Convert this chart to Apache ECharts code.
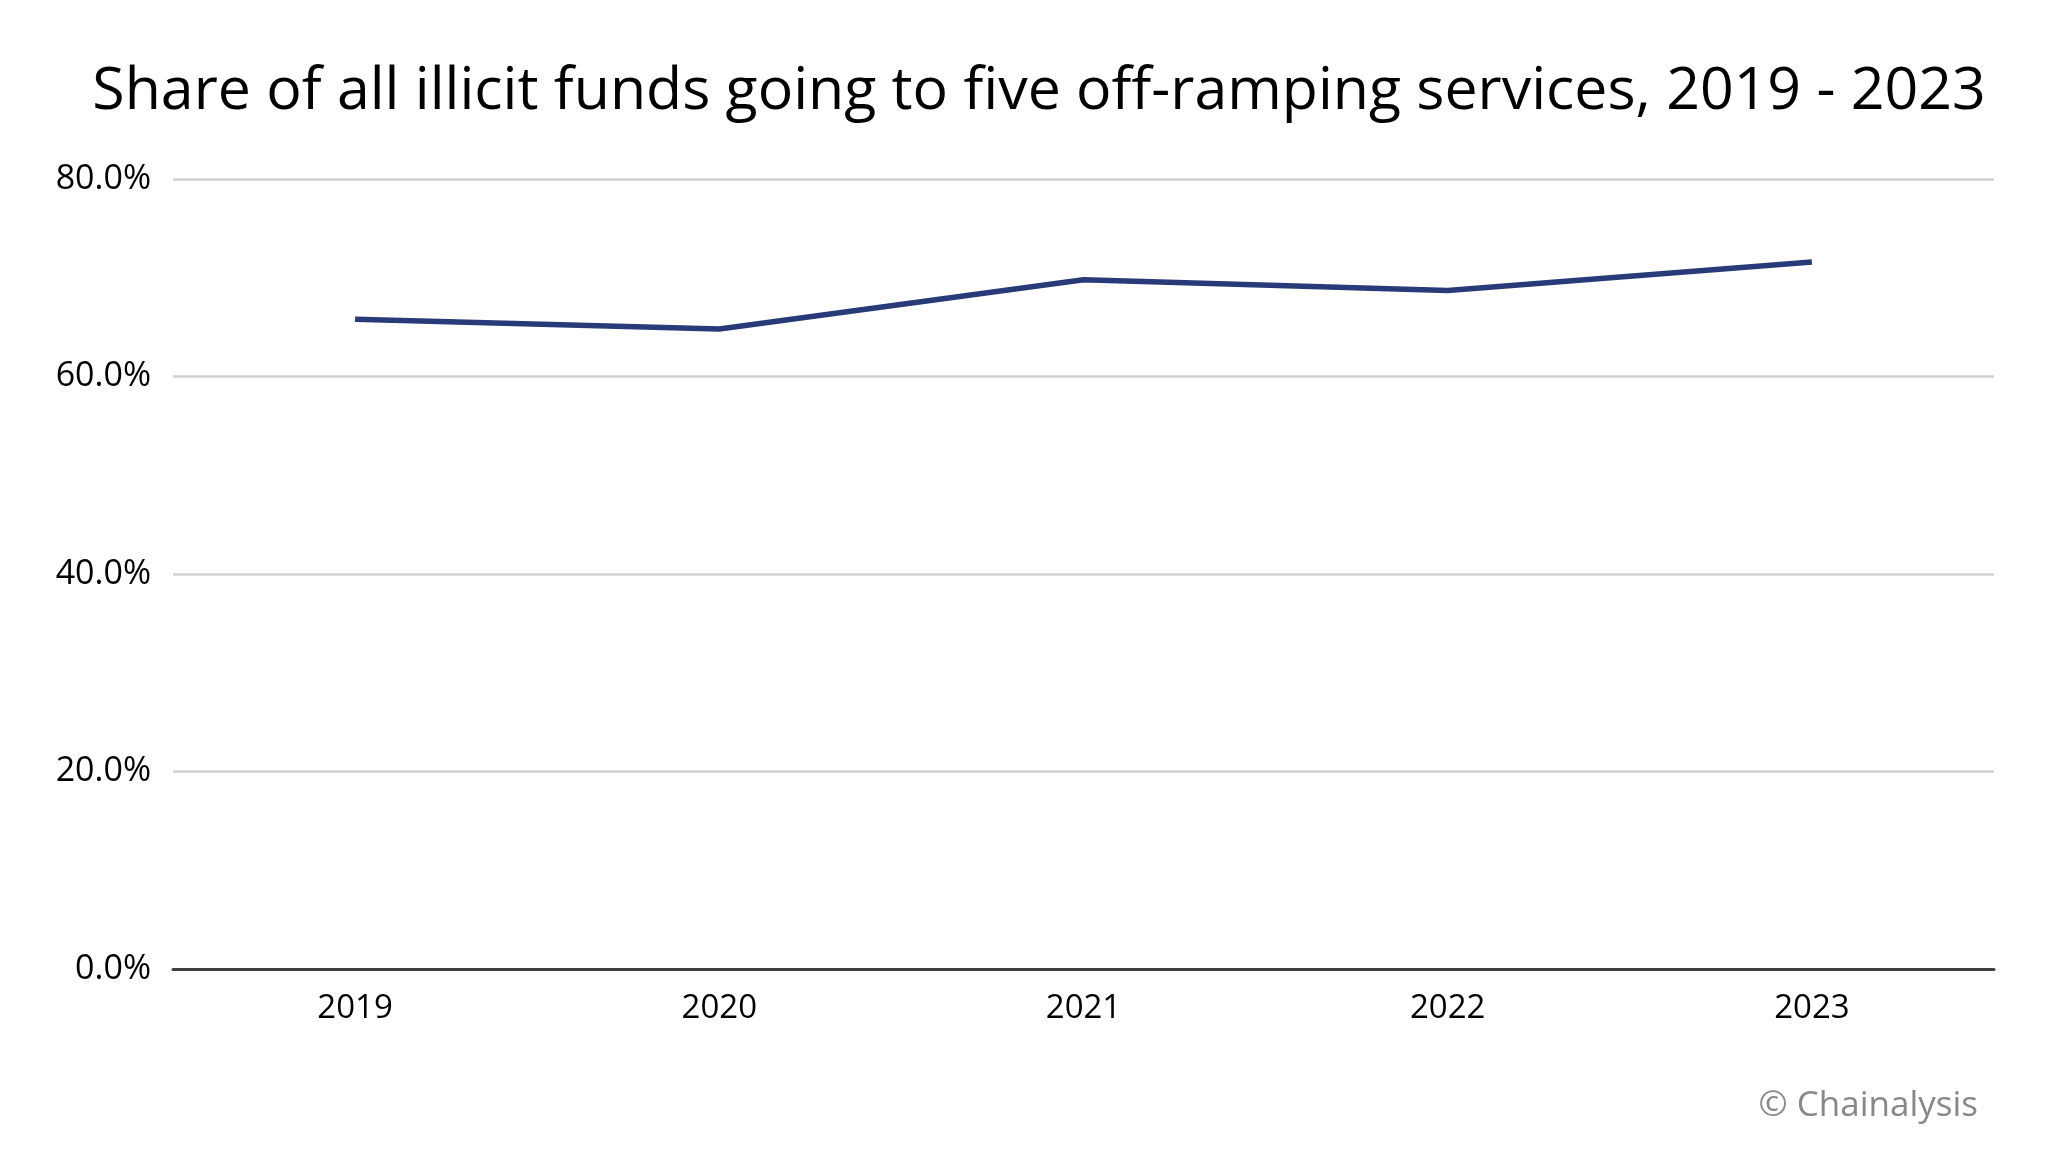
<!DOCTYPE html>
<html>
<head>
<meta charset="utf-8">
<script src="https://cdn.jsdelivr.net/npm/echarts@6/dist/echarts.min.js"></script>
<style>
html,body{margin:0;padding:0;background:#fff;}
#chart{width:2048px;height:1154px;}
</style>
</head>
<body>
<div id="chart"></div>
<script>
const titleText = 'Share of all illicit funds going to five off-ramping services, 2019 - 2023';
const years = ['2019', '2020', '2021', '2022', '2023'];
const shareValues = [65.8, 64.8, 69.8, 68.7, 71.6];
const yTicks = [0, 20, 40, 60, 80];
const sourceText = '© Chainalysis';

const FONT = 'Open Sans';
const chart = echarts.init(document.getElementById('chart'));
chart.setOption({
  backgroundColor: '#ffffff',
  animation: false,
  title: {
    text: titleText,
    left: 1034,
    textAlign: 'center',
    top: 58,
    textStyle: { fontFamily: FONT, fontSize: 59, fontWeight: 'normal', color: '#000000' }
  },
  grid: { left: 173, right: 54, top: 179, bottom: 185 },
  xAxis: {
    type: 'category',
    data: years,
    boundaryGap: true,
    axisLine: { show: true, lineStyle: { color: '#404040', width: 3 } },
    axisTick: { show: false },
    axisLabel: { fontFamily: FONT, fontSize: 33, color: '#000000', margin: 23 },
    splitLine: { show: false }
  },
  yAxis: {
    type: 'value',
    min: yTicks[0],
    max: yTicks[yTicks.length - 1],
    interval: yTicks[1] - yTicks[0],
    axisLine: { show: false },
    axisTick: { show: false },
    axisLabel: {
      fontFamily: FONT, fontSize: 34, color: '#000000', margin: 22,
      formatter: v => v.toFixed(1) + '%'
    },
    splitLine: { show: true, lineStyle: { color: '#d0d0d0', width: 2.5 } }
  },
  series: [{
    type: 'line',
    data: shareValues,
    symbol: 'none',
    lineStyle: { color: '#283a78', width: 5.5 },
    itemStyle: { color: '#283a78' }
  }],
  graphic: [{
    type: 'text',
    right: 70,
    top: 1089,
    style: { text: sourceText, fontFamily: FONT, fontSize: 35, fill: '#888888' }
  }]
});
</script>
</body>
</html>
